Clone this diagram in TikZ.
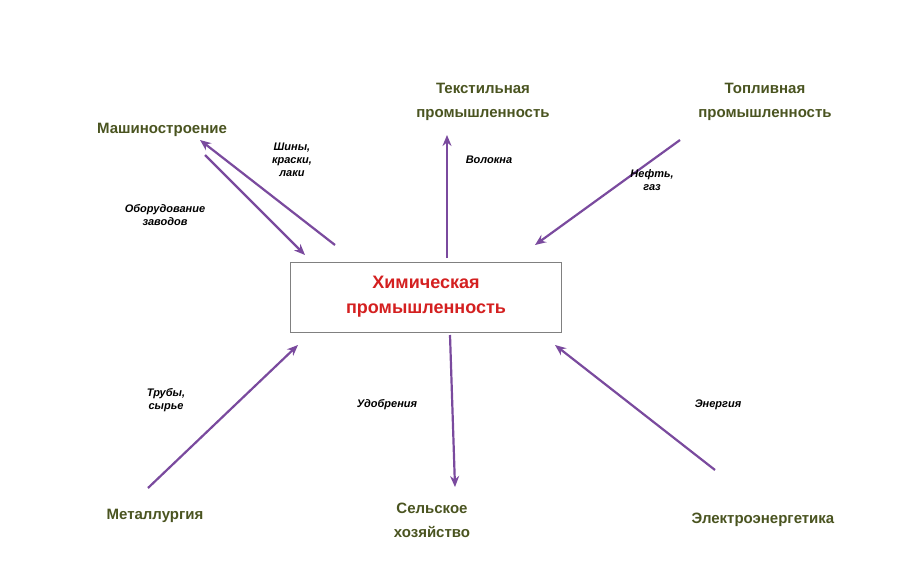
\documentclass[tikz,border=0pt]{standalone}
\usepackage{fontspec}
\setmainfont{Liberation Sans}
\usetikzlibrary{arrows.meta}
\definecolor{lbl}{HTML}{4A5420}
\definecolor{arr}{HTML}{7A4A9E}
\definecolor{redt}{HTML}{D42020}
\begin{document}
\begin{tikzpicture}[x=1pt,y=-1pt,
  lab/.style={text=lbl,font=\bfseries\fontsize{15}{24}\selectfont,align=center},
  small/.style={font=\bfseries\itshape\fontsize{11}{13}\selectfont,align=center},
  con/.style={draw=arr,line width=2.2pt,-{Stealth[length=11pt,width=9pt]}}]
\useasboundingbox (0,0) rectangle (915,575);
\fill[white] (0,0) rectangle (915,575);
\node[draw=gray,line width=0.8pt,minimum width=271pt,minimum height=70pt,text=redt,
  font=\bfseries\fontsize{18}{25}\selectfont,align=center] (c) at (426,297) {Химическая\\промышленность};
\node[lab] (m) at (162,130) {Машиностроение};
\node[lab] (t) at (483,102) {Текстильная\\промышленность};
\node[lab] (f) at (765,102) {Топливная\\промышленность};
\node[lab] (me) at (155,516) {Металлургия};
\node[lab] (s) at (432,520) {Сельское\\хозяйство};
\node[lab] (e) at (763,520) {Электроэнергетика};
\coordinate (a1) at (205,155); \coordinate (b1) at (305,255);
\coordinate (a2) at (335,245); \coordinate (b2) at (200,140);
\coordinate (a3) at (447,258); \coordinate (b3) at (447,135);
\coordinate (a4) at (680,140); \coordinate (b4) at (535,245);
\coordinate (a5) at (148,488); \coordinate (b5) at (298,345);
\coordinate (a6) at (450,335); \coordinate (b6) at (455,487);
\coordinate (a7) at (715,470); \coordinate (b7) at (555,345);
\draw[con] (a1) -- (b1);
\draw[con] (a2) -- (b2);
\draw[con] (a3) -- (b3);
\draw[con] (a4) -- (b4);
\draw[con] (a5) -- (b5);
\draw[con] (a6) -- (b6);
\draw[con] (a7) -- (b7);
\node[small] (l1) at (292,160) {Шины,\\краски,\\лаки};
\node[small] (l2) at (165,215) {Оборудование\\заводов};
\node[small] (l3) at (489,160) {Волокна};
\node[small] (l4) at (652,180) {Нефть,\\газ};
\node[small] (l5) at (166,400) {Трубы,\\сырье};
\node[small] (l6) at (387,405) {Удобрения};
\node[small] (l7) at (718,405) {Энергия};
\end{tikzpicture}
\end{document}
